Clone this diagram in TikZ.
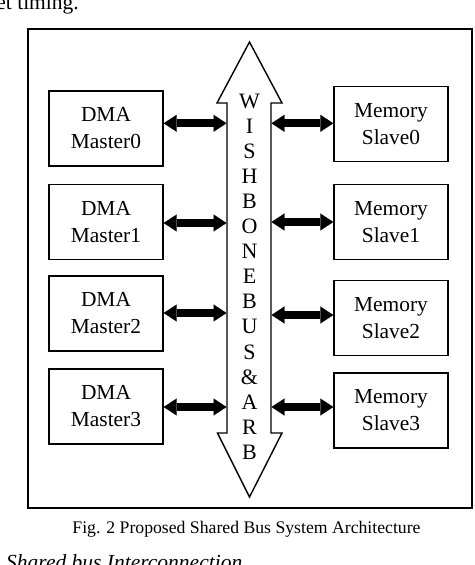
\documentclass[tikz,border=0pt]{standalone}
\usepackage{fontspec}
\setmainfont{Liberation Serif}
\usetikzlibrary{arrows.meta,calc}
\tikzset{
  unit/.style={draw, line width=1.4pt, minimum width=114pt, minimum height=75pt, inner sep=0pt, align=center,
    font=\fontsize{21.4}{27}\selectfont},
  busletter/.style={anchor=base, inner sep=0pt, font=\fontsize{22}{22}\selectfont},
  busarrow/.style={line width=8pt,
    {Triangle[length=13pt,width=17pt,line width=0.1pt]}-{Triangle[length=13pt,width=17pt,line width=0.1pt]}},
  frame/.style={draw, line width=2pt},
  busshape/.style={draw, line width=1.4pt, line join=miter}
}
\begin{document}
\begin{tikzpicture}[x=1pt,y=-1pt]
\useasboundingbox (0,0) rectangle (474,565);
\begin{scope}
\clip (0,0) rectangle (474,565);
\node[anchor=base east, inner sep=0pt, font=\fontsize{21.5}{21.5}\selectfont] (toptext) at (79,9.5) {et timing.};
\node[anchor=base west, inner sep=0pt, font=\fontsize{21.5}{21.5}\selectfont\itshape] (bottomtext) at (6,569) {Shared bus Interconnection};
\end{scope}
% frame
\draw[frame] (28,29) rectangle (472,508);
% bus
\draw[busshape] (249.5,42) -- (282,103) -- (271,103) -- (271,433) -- (282,433) -- (249.5,497)
  -- (217.5,433) -- (227,433) -- (227,103) -- (217,103) -- cycle;
\foreach \ch [count=\i from 0] in {W,I,S,H,B,O,N,E,B,U,S,\&,A,R,B}{
  \node[busletter] (l\i) at (249.5,{108+25.1*\i}) {\ch};
}
% masters
\node[unit] (m0) at (106,128.5) {DMA\\Master0};
\node[unit] (m1) at (106,222) {DMA\\Master1};
\node[unit] (m2) at (106,313.5) {DMA\\Master2};
\node[unit] (m3) at (106,406.5) {DMA\\Master3};
% slaves
\node[unit] (s0) at (391,124) {Memory\\Slave0};
\node[unit] (s1) at (391,222) {Memory\\Slave1};
\node[unit] (s2) at (391,318) {Memory\\Slave2};
\node[unit] (s3) at (391,410.5) {Memory\\Slave3};
% bus ports
\coordinate (bl0) at (226.5,123.3);
\coordinate (bl1) at (226.5,223);
\coordinate (bl2) at (226.5,313);
\coordinate (bl3) at (226.5,407);
\coordinate (br0) at (271.5,123.3);
\coordinate (br1) at (271.5,222);
\coordinate (br2) at (271.5,315);
\coordinate (br3) at (271.5,407);
\foreach \i in {0,1,2,3}{
  \draw[busarrow] (m\i.east |- bl\i) -- (bl\i);
  \draw[busarrow] (br\i) -- (s\i.west |- br\i);
}
% caption
\node[anchor=base, inner sep=0pt, font=\fontsize{17.7}{17.7}\selectfont] (caption) at (246.5,533.3)
  {Fig. 2 Proposed Shared Bus System Architecture};
\end{tikzpicture}
\end{document}
